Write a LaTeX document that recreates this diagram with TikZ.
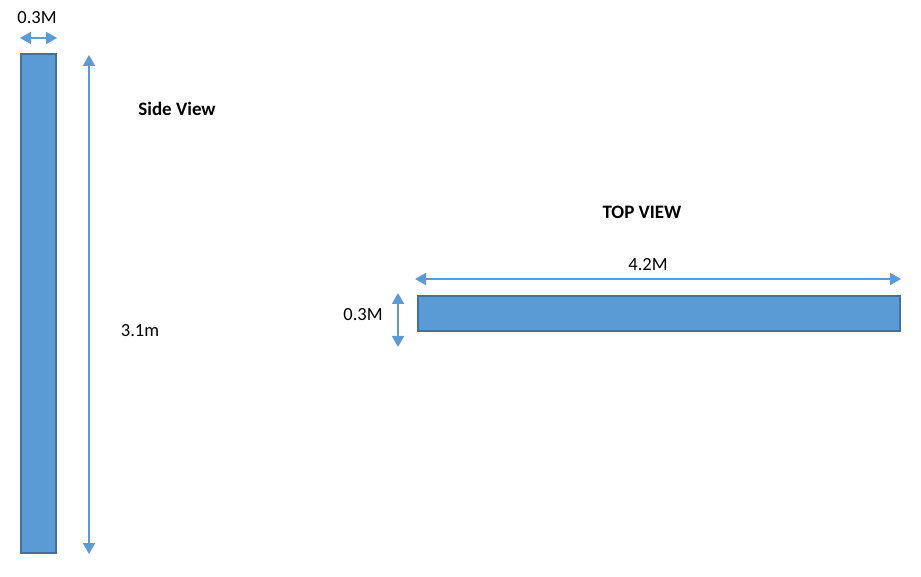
\documentclass[tikz,border=0pt]{standalone}
\usepackage{fontspec}
\setmainfont{Carlito}
\usetikzlibrary{arrows.meta}

\begin{document}
\begin{tikzpicture}[
x=1pt, y=-1pt,
beamrect/.style={draw=beamedge, fill=beamblue, line width=1.5pt},
dimarrow/.style={draw=beamblue, line width=1.8pt, {Triangle[width=12pt,length=11pt]}-{Triangle[width=12pt,length=11pt]}},
labeltext/.style={font=\fontsize{18.5}{22}\selectfont, inner sep=0pt},
titletext/.style={font=\fontsize{19}{22}\selectfont\bfseries, inner sep=0pt}
]
\definecolor{beamblue}{HTML}{5B9BD5}
\definecolor{beamedge}{HTML}{41719C}
\useasboundingbox (0,0) rectangle (921,577);

% side view
\draw [beamrect] (21,54) rectangle (56,553);
\node [labeltext] (sw) at (37,18) {0.3M};
\coordinate (sw1) at (20,38);
\coordinate (sw2) at (57,38);
\draw [dimarrow] (sw1) -- (sw2);

\coordinate (sh1) at (89,55);
\coordinate (sh2) at (89,554);
\draw [dimarrow] (sh1) -- (sh2);
\node [labeltext] (sh) at (140,331) {3.1m};
\node [titletext] (side) at (177,109) {Side View};

% top view
\node [titletext] (top) at (642,212) {TOP VIEW};
\node [labeltext] (tl) at (648,265) {4.2M};
\coordinate (tl1) at (415,279);
\coordinate (tl2) at (901,279);
\draw [dimarrow] (tl1) -- (tl2);

\draw [beamrect] (418,296) rectangle (900,331);
\node [labeltext] (tw) at (363,315) {0.3M};
\coordinate (tw1) at (398,293);
\coordinate (tw2) at (398,347);
\draw [dimarrow] (tw1) -- (tw2);
\end{tikzpicture}
\end{document}
